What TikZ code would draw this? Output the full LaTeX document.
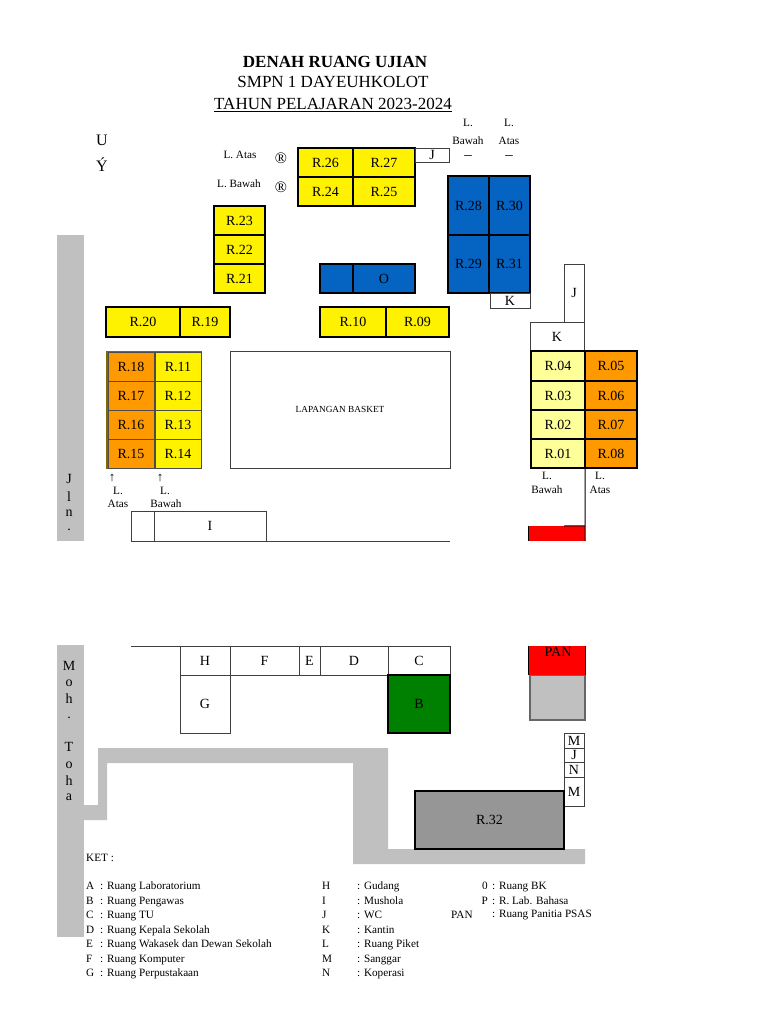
\documentclass[tikz,border=0pt]{standalone}
\usepackage{fontspec}
\setmainfont{Liberation Serif}
\usetikzlibrary{calc}
\definecolor{jalan}{HTML}{C0C0C0}
\definecolor{biru}{HTML}{0563C1}
\definecolor{jingga}{HTML}{FF9900}
\definecolor{krem}{HTML}{FFFF99}
\definecolor{hijau}{HTML}{008000}
\definecolor{abu}{HTML}{969696}
\definecolor{bingkai}{HTML}{7F6A00}
\tikzset{
    room/.style={draw=black,line width=1.3pt,inner sep=0pt,outer sep=0pt,font=\fontsize{14}{15}\selectfont},
    plain/.style={room,draw=black!75,line width=0.8pt},
    note/.style={inner sep=0pt,font=\fontsize{11.2}{12}\selectfont},
    road/.style={fill=jalan,draw=none},
    roadtxt/.style={inner sep=0pt,font=\fontsize{14}{15}\selectfont}
}
% #1 style, #2 name, #3-#6 corners, #7 text
\newcommand{\ruang}[7]{\node[#1,minimum width=#5-#3,minimum height=#6-#4] (#2) at ({(#3+#5)/2},{(#4+#6)/2}) {#7};}
\begin{document}
\begin{tikzpicture}[x=1pt,y=-1pt]
    \useasboundingbox (0,0) rectangle (768,1024);
    % roads
    \fill[road] (57,235) rectangle (84,541);
    \fill[road] (57,645) rectangle (84,937);
    \fill[road] (84,805)--(98,805)--(98,748)--(388,748)--(388,849)--(585,849)--(585,864)--(353,864)--(353,763)--(107,763)--(107,820)--(84,820)--cycle;
    \foreach \nm/\yy/\tx in {jl/479/J,jm/497/l,jn/513/n,jo/530/.,ma/666/M,mb/683/o,mc/699/h,md/718/.,me/747/T,mf/765/o,mg/781/h,mh/797/a}{
        \node[roadtxt] (\nm) at (69,\yy) {\tx};
    }
    % title
    \node[inner sep=0pt,font=\fontsize{17}{18}\selectfont\bfseries] (judul) at (335,62) {DENAH RUANG UJIAN};
    \node[inner sep=0pt,font=\fontsize{17}{18}\selectfont] (sekolah) at (333,82) {SMPN 1 DAYEUHKOLOT};
    \node[inner sep=0pt,font=\fontsize{17}{18}\selectfont] (tahun) at (333,105) {\underline{TAHUN PELAJARAN 2023-2024}};
    \node[roadtxt,font=\fontsize{16}{17}\selectfont] (utara) at (102,140) {U};
    \node[roadtxt,font=\fontsize{16}{17}\selectfont] (panah) at (102,165) {Ý};
    % yellow rooms
    \foreach \nm/\xa/\ya/\xb/\yb/\tx in {r26/298/148/353/177/R.26,r27/353/148/415/177/R.27,r24/298/177/353/206/R.24,r25/353/177/415/206/R.25,
        r23/214/206/265/235/R.23,r22/214/235/265/264/R.22,r21/214/264/265/293/R.21,
        r20/106/307/180/337/R.20,r19/180/307/230/337/R.19,r10/320/307/386/337/R.10,r09/386/307/449/337/R.09}{
        \ruang{room,fill=yellow}{\nm}{\xa}{\ya}{\xb}{\yb}{\tx}
    }
    % blue rooms
    \foreach \nm/\xa/\ya/\xb/\yb/\tx in {r28/448/176/489/235/R.28,r30/489/176/530/235/R.30,r29/448/235/489/293/R.29,r31/489/235/530/293/R.31,
        oa/320/264/353/293/{},ob/353/264/415/293/O}{
        \ruang{room,fill=biru}{\nm}{\xa}{\ya}{\xb}{\yb}{\tx}
    }
    % left block
    \fill[bingkai] (106,351) rectangle (202,469);
    \foreach \i/\tl/\tr/\ya/\yb in {0/18/11/352/381,1/17/12/381/410,2/16/13/410/439,3/15/14/439/468}{
        \ruang{room,draw=black!70,line width=1pt,fill=jingga}{rk\i}{108}{\ya}{154}{\yb}{R.\tl}
        \ruang{room,draw=black!70,line width=1pt,fill=yellow}{rn\i}{155}{\ya}{201}{\yb}{R.\tr}
    }
    % white rooms
    \foreach \nm/\xa/\ya/\xb/\yb/\tx in {ja/415/148/449/162/J,ka/490/293/530/308/K,jb/564/264/584/322/J,kb/530/322/584/351/K,
        ia/131/511/154/541/{},ib/154/511/266/541/I,
        h/180/646/230/675/H,f/230/646/299/675/F,e/299/646/320/675/E,d/320/646/388/675/D,c/388/646/450/675/C,g/180/675/230/733/G,
        ma/564/733/584/748/M,jc/564/748/584/762/J,n/564/762/584/777/N,mb/564/777/584/806/M}{
        \ruang{plain}{\nm}{\xa}{\ya}{\xb}{\yb}{\tx}
    }
    % right block
    \foreach \i/\tl/\tr/\ya/\yb in {0/04/05/351/381,1/03/06/381/410,2/02/07/410/439,3/01/08/439/468}{
        \ruang{room,fill=krem}{rp\i}{531}{\ya}{585}{\yb}{R.\tl}
        \ruang{room,fill=jingga}{rq\i}{585}{\ya}{637}{\yb}{R.\tr}
    }
    \node[plain,font=\fontsize{9.3}{10}\selectfont,minimum width=220,minimum height=117] (basket) at (340,409.5) {LAPANGAN BASKET};
    \ruang{room,fill=hijau}{b}{388}{675}{450}{733}{B}
    \ruang{room,fill=abu}{r32}{415}{791}{564}{849}{R.32}
    \ruang{room,draw=black!60,line width=1.4pt,fill=jalan}{abu}{530}{675}{585}{720}{}
    % red rooms and loose walls
    \ruang{draw=none,fill=red,inner sep=0pt}{merah}{529}{526}{585}{541}{}
    \ruang{draw=none,fill=red,inner sep=0pt}{pan}{529}{646}{585}{675}{}
    \node[roadtxt] (panlbl) at (558,652) {PAN};
    \draw[line width=1pt] (merah.north west)--(merah.south west);
    \draw[line width=1pt] (pan.north west)--(pan.south west);
    \draw[line width=1pt] (pan.north east)--(pan.south east);
    \draw[line width=1pt] (rq3.south west)--(merah.south east);
    \draw[line width=1pt] (564,526)--(merah.north east);
    \draw[plain] (ib.south east)--(450,541);
    \draw[plain] (131,646)--(h.north west);
    % stairs
    \foreach \nm/\xx/\yy/\tx in {atas/240/155/L. Atas,bawah/239/184/L. Bawah,
        sa/468/123/L.,sb/468/141/Bawah,ta/509/123/L.,tb/509/141/Atas,
        ua/547/476/L.,ub/547/490/Bawah,va/600/476/L.,vb/600/490/Atas,
        wa/118/491/L.,wb/118/504/Atas,xa/165/491/L.,xb/166/504/Bawah}{
        \node[note] (\nm) at (\xx,\yy) {\tx};
    }
    \node[note,font=\fontsize{15}{15}\selectfont] (sc) at (468,158) {--};
    \node[note,font=\fontsize{15}{15}\selectfont] (tc) at (509,158) {--};
    \node[note,font=\fontsize{16}{16}\selectfont] (tanda1) at (281,158) {®};
    \node[note,font=\fontsize{16}{16}\selectfont] (tanda2) at (281,187) {®};
    \node[note,font=\fontsize{13}{13}\selectfont] (naik1) at (112,478) {↑};
    \node[note,font=\fontsize{13}{13}\selectfont] (naik2) at (160,478) {↑};
    % legend
    \node[note,anchor=base west] (ket) at (86,861) {KET :};
    \foreach \k/\yy/\tx in {A/889/Ruang Laboratorium,B/904/Ruang Pengawas,C/918/Ruang TU,D/933/Ruang Kepala Sekolah,E/947/Ruang Wakasek dan Dewan Sekolah,F/962/Ruang Komputer,G/976/Ruang Perpustakaan}{
        \node[note,anchor=base west] (k\k) at (86,\yy) {\k};
        \node[note,anchor=base west] (t\k) at (100,\yy) {: \tx};
    }
    \foreach \k/\yy/\tx in {H/889/Gudang,I/904/Mushola,J/918/WC,K/933/Kantin,L/947/Ruang Piket,M/962/Sanggar,N/976/Koperasi}{
        \node[note,anchor=base west] (k\k) at (322,\yy) {\k};
        \node[note,anchor=base west] (t\k) at (357,\yy) {: \tx};
    }
    \node[note,anchor=base east] (knol) at (488,889) {0};
    \node[note,anchor=base west] (tnol) at (492,889) {: Ruang BK};
    \node[note,anchor=base east] (kp) at (488,904) {P};
    \node[note,anchor=base west] (tp) at (492,904) {: R. Lab. Bahasa};
    \node[note,anchor=base west] (kpan) at (451,918) {PAN};
    \node[note,anchor=base west] (tpan) at (492,917) {: Ruang Panitia PSAS};
\end{tikzpicture}
\end{document}
